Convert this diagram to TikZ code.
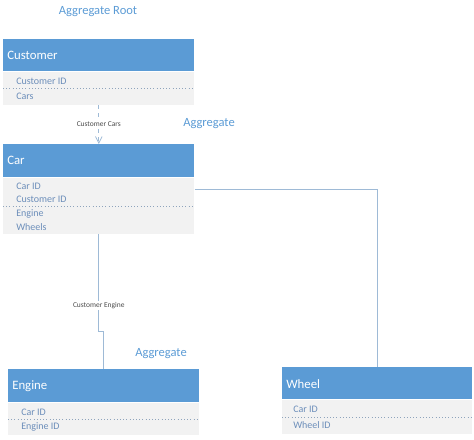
\documentclass[tikz,border=0pt]{standalone}
\usepackage{fontspec}
\setmainfont{Carlito}
\usetikzlibrary{positioning,calc,arrows.meta}
\definecolor{hdrblue}{HTML}{5B9BD5}
\definecolor{bodygrey}{HTML}{F2F2F2}
\definecolor{fieldtxt}{HTML}{6C8EBA}
\definecolor{linkcol}{HTML}{9EBAD6}
\definecolor{sepcol}{HTML}{8FA4BC}

\begin{document}
\begin{tikzpicture}[x=0.75pt,y=-0.75pt,
    hdr/.style={rectangle, fill=hdrblue, minimum width=143.25pt, anchor=north west, inner sep=0pt},
    bodybox/.style={rectangle, fill=bodygrey, minimum width=143.25pt, anchor=north, inner sep=0pt},
    title/.style={text=white, font=\fontsize{9.6}{11}\selectfont, anchor=west, inner sep=0pt},
    field/.style={text=fieldtxt, font=\fontsize{7.5}{9}\selectfont, anchor=west, inner sep=0pt},
    caption/.style={text=hdrblue, font=\fontsize{9.4}{11}\selectfont, inner sep=0pt},
    linklbl/.style={fill=white, text=black!70, font=\fontsize{5.6}{7}\selectfont, inner sep=1pt},
    link/.style={draw=linkcol, line width=0.6pt},
    sep/.style={draw=sepcol, line width=0.4pt, dotted}]
    \useasboundingbox (0,0) rectangle (474,439);

    % Customer
    \node[hdr, minimum height=24pt] (cust) at (3,39) {};
    \node[bodybox, minimum height=24.75pt, below=0pt of cust.south, anchor=north] (custb) {};
    \node[title] (custt) at (7,55) {Customer};
    \node[field] (custf1) at (16,81) {Customer ID};
    \node[field] (custf2) at (16,96) {Cars};
    \draw[sep] (custb.west |- 0,88) -- (custb.east |- 0,88);

    % Car
    \node[hdr, minimum height=24.75pt] (car) at (3,144) {};
    \node[bodybox, minimum height=42pt, below=0pt of car.south, anchor=north] (carb) {};
    \node[title] (cart) at (7,160) {Car};
    \node[field] (carf1) at (16,186) {Car ID};
    \node[field] (carf2) at (16,199) {Customer ID};
    \node[field] (carf3) at (16,214) {Engine};
    \node[field] (carf4) at (16,227) {Wheels};
    \draw[sep] (carb.west |- 0,206) -- (carb.east |- 0,206);

    % Engine
    \node[hdr, minimum height=24.75pt] (engine) at (8,369) {};
    \node[bodybox, minimum height=24pt, below=0pt of engine.south, anchor=north] (engineb) {};
    \node[title] (enginet) at (12,386) {Engine};
    \node[field] (enginef1) at (21,412) {Car ID};
    \node[field] (enginef2) at (21,427) {Engine ID};
    \draw[sep] (engineb.west |- 0,419) -- (engineb.east |- 0,419);

    % Wheel
    \node[hdr, minimum height=24pt, minimum width=142.5pt] (wheel) at (282,367) {};
    \node[bodybox, minimum height=25.5pt, minimum width=142.5pt, below=0pt of wheel.south, anchor=north] (wheelb) {};
    \node[title] (wheelt) at (286,384) {Wheel};
    \node[field] (wheelf1) at (293,409) {Car ID};
    \node[field] (wheelf2) at (293,425) {Wheel ID};
    \draw[sep] (wheelb.west |- 0,417) -- (wheelb.east |- 0,417);

    % captions
    \node[caption] (rootcap) at (98,12) {Aggregate Root};
    \node[caption] (carcap) at (209,124) {Aggregate};
    \node[caption] (enginecap) at (161,354) {Aggregate};

    % connectors
    \draw[link, dashed, -{Straight Barb[length=5pt,width=5pt]}] (custb.south) -- node[linklbl] (custcars) {Customer Cars} (car.north);
    \draw[link] ([yshift=-9pt]carb.north east) -| (wheel.north);
    \draw[link] (carb.south) -- ++(0,97) coordinate (jog) -| (engine.north);
    \node[linklbl] (custengine) at ($(carb.south)!0.74!(jog)$) {Customer Engine};
\end{tikzpicture}
\end{document}
